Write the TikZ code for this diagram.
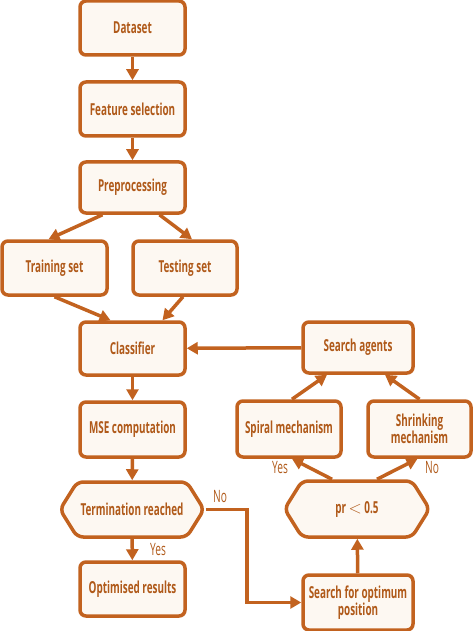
\documentclass[tikz,border=0pt]{standalone}
\usepackage{fontspec}
\newfontfamily\boxfont{Open Sans}[FakeStretch=0.6]
\usepackage{tikz}
\usetikzlibrary{arrows.meta}
\usetikzlibrary{shapes.symbols}
\definecolor{edge}{HTML}{C2621F}
\definecolor{cream}{HTML}{FDF8F2}
\definecolor{ink}{HTML}{B05A1A}
\tikzset{
  block/.style={
    rectangle,
    rounded corners=6pt,
    draw=edge,
    fill=cream,
    line width=3.5pt,
    text=ink,
    align=center,
    inner sep=2pt,
    font=\boxfont\bfseries\fontsize{16.5}{16.5}\selectfont
  }
}
\tikzset{
  decide/.style={
    block,
    signal,
    signal to=west and east,
    signal pointer angle=116
  }
}
\tikzset{flow/.style={draw=edge,line width=3.5pt,-{Triangle[length=11pt,width=12pt]}}}
\tikzset{tag/.style={text=ink,font=\boxfont\fontsize{17}{17}\selectfont}}

\begin{document}
\begin{tikzpicture}[x=1pt,y=-1pt]
\useasboundingbox (0,0) rectangle (474,631);

\node[block,minimum width=105pt,minimum height=54pt] (data) at (132.5,28) {Dataset};
\node[block,minimum width=105pt,minimum height=54pt] (feat) at (132.5,109) {Feature selection};
\node[block,minimum width=105pt,minimum height=51pt] (prep) at (132.5,187.5) {Preprocessing};
\node[block,minimum width=105pt,minimum height=54pt] (train) at (54.5,268) {Training set};
\node[block,minimum width=104pt,minimum height=54pt] (test) at (185,268) {Testing set};
\node[block,minimum width=105pt,minimum height=53pt] (clf) at (132.5,348.5) {Classifier};
\node[block,minimum width=105pt,minimum height=55pt] (mse) at (132.5,429.5) {MSE computation};
\node[decide,minimum width=144pt,minimum height=55pt] (term) at (132,509.5) {Termination reached};
\node[block,minimum width=105pt,minimum height=54pt] (opt) at (132.5,589) {Optimised results};

\node[block,minimum width=110pt,minimum height=51pt] (agents) at (358,347.5) {Search agents};
\node[block,minimum width=104pt,minimum height=56pt] (spiral) at (289,429) {Spiral mechanism};
\node[block,minimum width=103pt,minimum height=56pt] (shrink) at (419.5,429) {Shrinking\\mechanism};
\node[decide,minimum width=145pt,minimum height=56pt] (pr) at (357,509) {pr $<$ 0.5};
\node[block,minimum width=110pt,minimum height=55pt] (search) at (358,602.5) {Search for optimum\\position};

\draw[flow] (data) -- (feat);
\draw[flow] (feat) -- (prep);
\draw[flow] ([xshift=-30pt]prep.south) -- ([xshift=-6pt]train.north);
\draw[flow] ([xshift=27pt]prep.south) -- ([xshift=7pt]test.north);
\draw[flow] (train.south) -- ([xshift=-22pt]clf.north);
\draw[flow] ([xshift=-2pt]test.south) -- ([xshift=30pt]clf.north);
\draw[flow] (clf) -- (mse);
\draw[flow] (mse) -- (term);
\draw[flow] (term) -- (opt);
\draw[flow] (term.east) -- (247,509.5) |- (search.west);
\draw[flow] (search) -- (pr);
\draw[flow] ([xshift=-25pt]pr.north) -- ([xshift=3pt]spiral.south);
\draw[flow] ([xshift=20pt]pr.north) -- ([xshift=-2pt]shrink.south);
\draw[flow] ([xshift=3pt]spiral.north) -- ([xshift=-31pt]agents.south);
\draw[flow] (shrink.north) -- ([xshift=27pt]agents.south);
\draw[flow] (agents) -- (clf);

\node[tag] (yes1) at (158,550) {Yes};
\node[tag] (no1) at (220,497) {No};
\node[tag] (yes2) at (280,468) {Yes};
\node[tag] (no2) at (432,468) {No};

\end{tikzpicture}
\end{document}
